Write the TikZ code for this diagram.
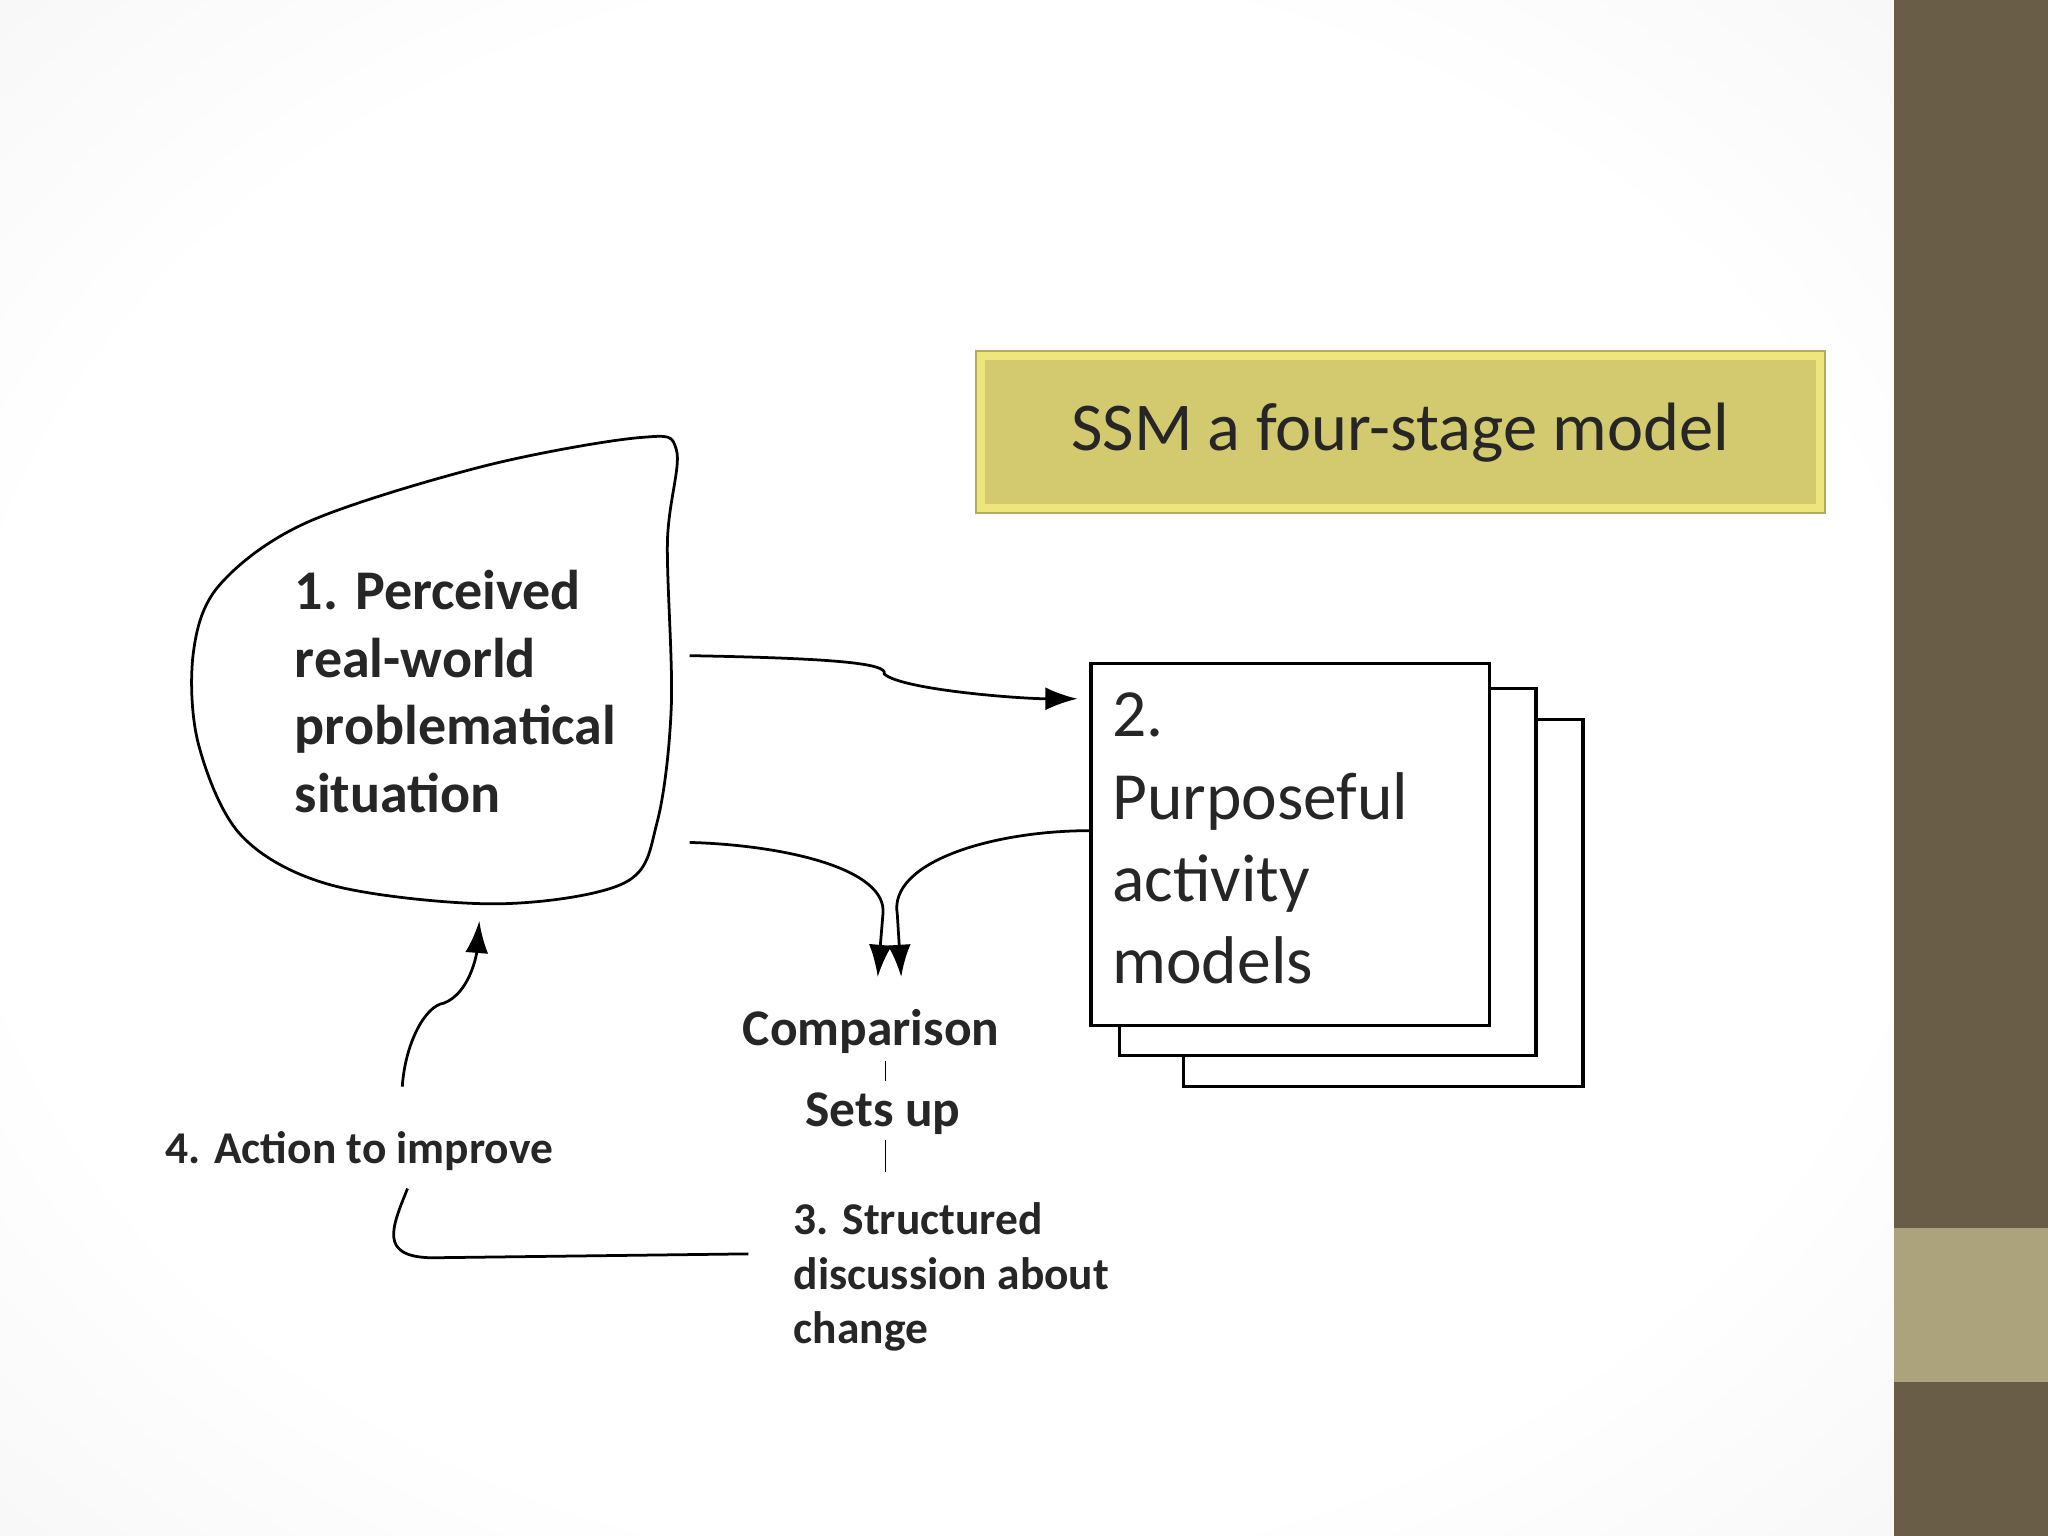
\documentclass[tikz,border=0pt]{standalone}
\usepackage{fontspec}
\setmainfont{Carlito}
\usetikzlibrary{arrows.meta,shadings}
\definecolor{barbrown}{HTML}{6A5D47}
\definecolor{barlight}{HTML}{ACA37D}
\definecolor{titlefill}{HTML}{D3C96F}
\definecolor{titleedge}{HTML}{EEE67C}
\definecolor{ink}{HTML}{262626}
\pgfdeclareradialshading{vign}{\pgfpoint{0cm}{0cm}}{color(0cm)=(white);color(0.9cm)=(white);color(1.76cm)=(gray!14);color(2.6cm)=(gray!16)}
\tikzset{
  x=0.01cm,y=-0.01cm,
  lbl/.style={inner sep=0pt,text=ink,font=\bfseries\fontsize{12.2}{14.7}\selectfont},
  small/.style={inner sep=0pt,text=ink,font=\bfseries\fontsize{9.9}{11.9}\selectfont,align=left},
  pbox/.style={draw,fill=white,line width=0.7pt},
  conn/.style={line width=0.6pt,-{Latex[length=7pt,width=5pt]}},
  plain/.style={line width=0.6pt}
}
\begin{document}
\begin{tikzpicture}
\useasboundingbox (0,0) rectangle (1568,1176);
\shade[shading=vign] (0,0) rectangle (1450,1176);
\fill[barbrown] (1450,0) rectangle (1568,1176);
\fill[barlight] (1450,940) rectangle (1568,1058);
% title
\fill[titleedge] (747,269) rectangle (1397,393);
\draw[titlefill!85!black,line width=0.4pt] (747,269) rectangle (1397,393);
\node[fill=titlefill,minimum width=6.36cm,minimum height=1.1cm,text=ink,font=\fontsize{14.9}{18}\selectfont] (title) at (1072,331) {SSM a four-stage model};
% blob
\draw[plain] plot[smooth cycle,tension=0.55] coordinates {(518,345)(511,415)(514,540)(503,630)(478,676)(380,692)(255,678)(185,640)(152,570)(148,500)(168,448)(235,400)(370,357)(490,335)};
\node[lbl,anchor=base west,align=left] (p1) at (225,622) {1. Perceived\\real-world\\problematical\\situation};
% stacked boxes
\draw[pbox] (906,551) rectangle (1212,832);
\draw[pbox] (857,527) rectangle (1176,808);
\node[pbox,anchor=north west,minimum width=3.05cm,minimum height=2.77cm] (m) at (834,507) {};
\node[anchor=base west,inner sep=0pt,text=ink,align=left,font=\fontsize{14.7}{17.9}\selectfont] (mt) at (851,753) {2.\\Purposeful\\activity\\models};
% comparison etc.
\node[lbl,font=\bfseries\fontsize{11.2}{13}\selectfont] (cmp) at (667,790) {Comparison};
\node[small,font=\bfseries\fontsize{11.2}{13}\selectfont] (sets) at (676,853) {Sets up};
\node[small,anchor=base west] (disc) at (607,1029) {3. Structured\\discussion about\\change};
\node[small,anchor=base west] (act) at (126,891) {4. Action to improve};
\coordinate (a1) at (528,502); \coordinate (a1e) at (825,535);
\coordinate (a2) at (528,645); \coordinate (a2e) at (672,748);
\coordinate (a3) at (834,636); \coordinate (a3e) at (690,748);
\draw[conn] (a1) .. controls (640,504) and (680,508) .. (677,516) .. controls (690,528) and (780,535) .. (a1e);
\draw[conn] (a2) .. controls (600,647) and (680,665) .. (676,700) -- (a2e);
\draw[conn] (a3) .. controls (760,636) and (680,660) .. (687,700) -- (a3e);
\draw[thin] (678,812) -- (678,828);
\draw[thin] (678,873) -- (678,897);
\coordinate (l1) at (573,960); \coordinate (l2) at (312,910);
\draw[plain] (l1) -- (330,963) .. controls (290,962) and (300,940) .. (l2);
\coordinate (u1) at (308,832); \coordinate (u2) at (367,705);
\draw[conn] (u1) .. controls (310,800) and (325,770) .. (340,768) .. controls (360,760) and (365,730) .. (u2);
\end{tikzpicture}
\end{document}
